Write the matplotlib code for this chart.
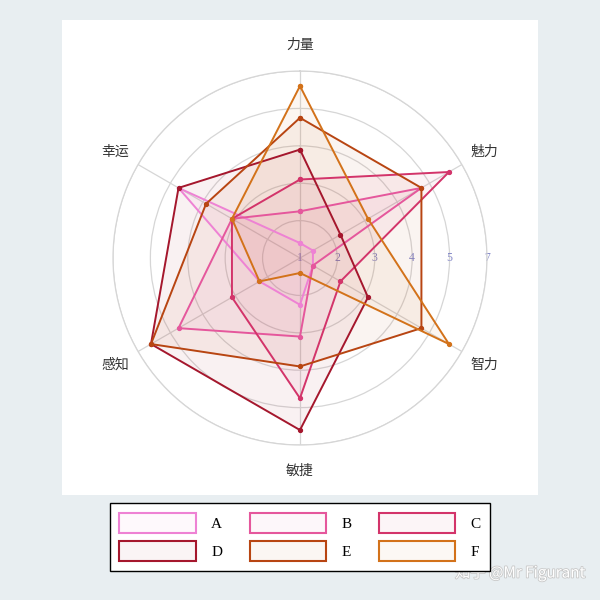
import matplotlib.pyplot as plt
import numpy as np
from matplotlib.patches import Patch, Rectangle
import matplotlib.patheffects as pe

plt.rcParams['font.family'] = ['Noto Sans CJK SC', 'DejaVu Sans']

# 六个属性, 从正上方顺时针
attributes = ['力量', '魅力', '智力', '敏捷', '感知', '幸运']
series_names = ['A', 'B', 'C', 'D', 'E', 'F']

A = [1.4, 1.4, 1.4, 2.25, 2.25, 4.75]
B = [2.25, 4.75, 1.4, 3.1, 4.75, 3.1]
C = [3.1, 5.6, 2.25, 4.75, 3.1, 3.1]
D = [3.9, 2.25, 3.1, 5.6, 5.6, 4.75]
E = [4.75, 4.75, 4.75, 3.9, 5.6, 3.9]
F = [5.6, 3.1, 5.6, 1.4, 2.25, 3.1]

r_ticks = [1, 2, 3, 4, 5, 6]
r_tick_labels = ['1', '2', '3', '4', '5', '7']

colors = ['#ee82d4', '#e5579c', '#d3346a', '#a5172d', '#b84512', '#d3721a']

fig = plt.figure(figsize=(6, 6), dpi=100)
fig.patch.set_facecolor('#e8eef1')

# white panel behind the radar
fig.patches.append(Rectangle((0.103, 0.175), 0.794, 0.792, transform=fig.transFigure,
                             facecolor='white', edgecolor='none', zorder=-10))

ax = fig.add_axes([0.1883, 0.2583, 0.6233, 0.6233], polar=True)
ax.set_zorder(1)
ax.set_facecolor('none')
ax.set_theta_zero_location('N')
ax.set_theta_direction(-1)

angles = np.linspace(0, 2 * np.pi, len(attributes), endpoint=False)

for name, vals, col in zip(series_names, [A, B, C, D, E, F], colors):
    th = np.append(angles, angles[0])
    rr = np.append(vals, vals[0])
    ax.fill(th, rr, color=col, alpha=0.06, zorder=2)
    ax.plot(th, rr, color=col, linewidth=1.4, marker='o', markersize=2.8, zorder=3)

ax.set_ylim(1, 6)
ax.set_yticks(r_ticks)
ax.set_yticklabels(r_tick_labels, family='Liberation Serif', fontsize=8.5, color='#8488c8')
ax.set_rlabel_position(90)
for lab in ax.get_yticklabels():
    lab.set_horizontalalignment('center')
    lab.set_verticalalignment('center')

ax.set_xticks(angles)
ax.set_xticklabels([])
ax.grid(True, color='#d6d6d6', linewidth=0.9)
ax.spines['polar'].set_color('#d6d6d6')
ax.spines['polar'].set_linewidth(0.9)

for ang, txt in zip(angles, attributes):
    ax.text(ang, 6.7, txt, ha='center', va='center', fontsize=10, color='#333333')

handles = [Patch(facecolor=c + '0c', edgecolor=c, linewidth=1.5) for c in colors]
# row-major order for 3 columns
order = [0, 3, 1, 4, 2, 5]
leg = fig.legend([handles[i] for i in order], [series_names[i] for i in order],
                 ncol=3, loc='center', bbox_to_anchor=(0.5, 0.105),
                 prop={'family': 'Liberation Serif', 'size': 11},
                 handlelength=5.0, handleheight=1.7, handletextpad=1.0,
                 columnspacing=1.8, labelspacing=0.5, borderpad=0.6,
                 frameon=True, fancybox=False, edgecolor='black', framealpha=1)
leg.get_frame().set_linewidth(1.0)

fig.text(0.975, 0.045, '知乎 @Mr Figurant', ha='right', va='center', fontsize=11,
         color='white', path_effects=[pe.withStroke(linewidth=1.2, foreground='#c8c8c8')])

fig.savefig('out.png', dpi=100, facecolor=fig.get_facecolor())
